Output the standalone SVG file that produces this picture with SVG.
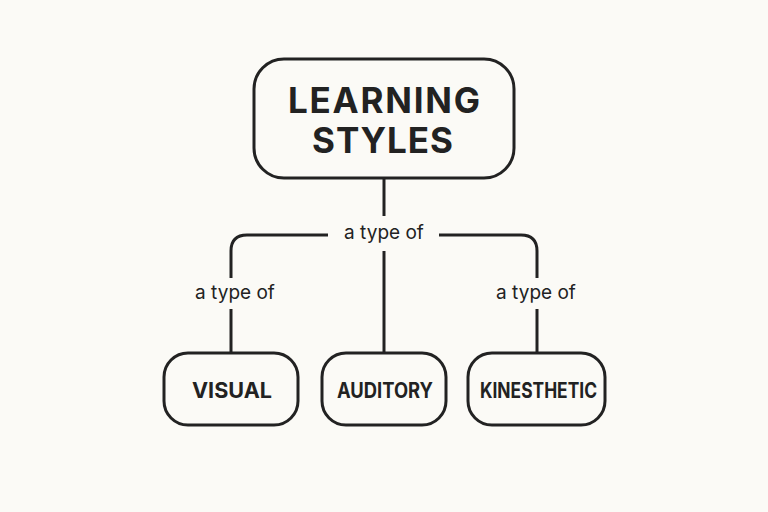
<svg xmlns="http://www.w3.org/2000/svg" width="768" height="512" viewBox="0 0 768 512">
<style>
.box{fill:none;stroke:#222;stroke-width:3}
.ln{fill:none;stroke:#222;stroke-width:3}
.title{font-family:Inter,"Liberation Sans",sans-serif;font-weight:700;font-size:35px;fill:#222}
.lab{font-family:Inter,"Liberation Sans",sans-serif;font-weight:700;font-size:21px;fill:#222}
.rel{font-family:Inter,"Liberation Sans",sans-serif;font-size:19px;fill:#222}
</style>
<rect width="768" height="512" fill="#fbfaf6"/>
<g id="connectors">
<path class="ln" d="M384 178 V216"/>
<path class="ln" d="M328 235 H247 Q231 235 231 251 V278"/>
<path class="ln" d="M231 309 V353"/>
<path class="ln" d="M384 251 V353"/>
<path class="ln" d="M439 235 H521 Q537 235 537 251 V278"/>
<path class="ln" d="M537 309 V353"/>
<text class="rel" x="384" y="239" text-anchor="middle">a type of</text>
<text class="rel" x="235" y="299" text-anchor="middle">a type of</text>
<text class="rel" x="536" y="299" text-anchor="middle">a type of</text>
</g>
<g id="learning-styles">
<rect class="box" x="254" y="59" width="260" height="119" rx="30"/>
<text class="title" x="288" y="113" textLength="192" lengthAdjust="spacing">LEARNING</text>
<text class="title" x="312" y="153" textLength="141" lengthAdjust="spacing">STYLES</text>
</g>
<g id="visual">
<rect class="box" x="164" y="353" width="134" height="72" rx="24"/>
<text class="lab" x="192" y="397.5" textLength="80" lengthAdjust="spacingAndGlyphs">VISUAL</text>
</g>
<g id="auditory">
<rect class="box" x="322" y="353" width="124" height="72" rx="24"/>
<text class="lab" x="337" y="397.5" textLength="96" lengthAdjust="spacingAndGlyphs">AUDITORY</text>
</g>
<g id="kinesthetic">
<rect class="box" x="468" y="353" width="137" height="72" rx="24"/>
<text class="lab" x="480" y="397.5" textLength="117" lengthAdjust="spacingAndGlyphs">KINESTHETIC</text>
</g>
</svg>
